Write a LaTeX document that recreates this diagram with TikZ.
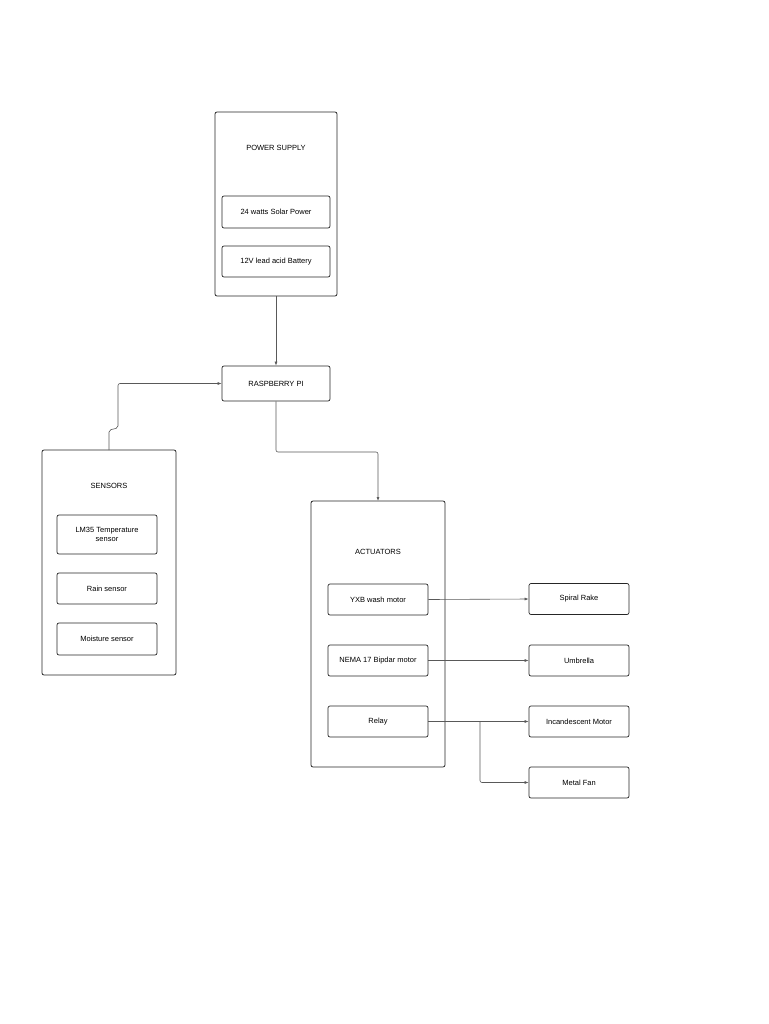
\documentclass[tikz,border=0pt]{standalone}
\usepackage{fontspec}
\setmainfont{Liberation Sans}
\usetikzlibrary{arrows.meta}
\begin{document}
\begin{tikzpicture}[x=1pt,y=-1pt,
  box/.style={draw=black!85,line width=0.8pt,rounded corners=2pt},
  inner/.style={draw=black!85,line width=0.7pt,rounded corners=2pt,font=\fontsize{7.5}{9}\selectfont,align=center},
  ttl/.style={font=\fontsize{7.5}{9}\selectfont},
  conn/.style={draw=black!65,line width=0.6pt,-{Latex[length=4pt,width=3pt]}}]
\useasboundingbox (0,0) rectangle (768,1024);
\draw[box] (215,112) rectangle (337,296);
\node[ttl] (pst) at (276,148) {POWER SUPPLY};
\draw[inner] (222,196) rectangle node (sol) {24 watts Solar Power} (330,228);
\draw[inner] (222,246) rectangle node (bat) {12V lead acid Battery} (330,277);
\coordinate (psb) at (276,296);
\node[inner,minimum width=108pt,minimum height=35pt] (rpi) at (276,383.5) {RASPBERRY PI};
\draw[box] (42,450) rectangle (176,675);
\node[ttl] (sen) at (109,486) {SENSORS};
\draw[inner] (57,515) rectangle node (lm) {LM35 Temperature\\sensor} (157,554);
\draw[inner] (57,573) rectangle node (rain) {Rain sensor} (157,604);
\draw[inner] (57,623) rectangle node (moi) {Moisture sensor} (157,655);
\coordinate (st) at (109,450);
\draw[box] (311,501) rectangle (445,767);
\node[ttl] (act) at (378,552) {ACTUATORS};
\coordinate (at) at (378,501);
\tikzset{ib/.style={inner,minimum width=100pt,minimum height=31pt}}
\node[ib] (yxb) at (378,599.5) {YXB wash motor};
\node[ib] (nema) at (378,660.5) {NEMA 17 Bipdar motor};
\node[ib] (relay) at (378,721.5) {Relay};
\node[ib] (rake) at (579,599) {Spiral Rake};
\node[ib] (umb) at (579,660.5) {Umbrella};
\node[ib] (inc) at (579,721.5) {Incandescent Motor};
\node[ib] (fan) at (579,782.5) {Metal Fan};
\draw[conn] (psb) -- (rpi.north);
\draw[conn,rounded corners=2pt] (st) -- (109,430) -- (118,428) -- (118,383.5) -- (rpi.west);
\draw[conn,rounded corners=2pt] (rpi.south) -- (276,452) -- (378,452) -- (at);
\draw[conn] (yxb.east) -- (rake.west);
\draw[conn] (nema.east) -- (umb.west);
\draw[conn] (relay.east) -- (inc.west);
\draw[conn,rounded corners=2pt] (480,721.5) -- (480,782.5) -- (fan.west);
\end{tikzpicture}
\end{document}
